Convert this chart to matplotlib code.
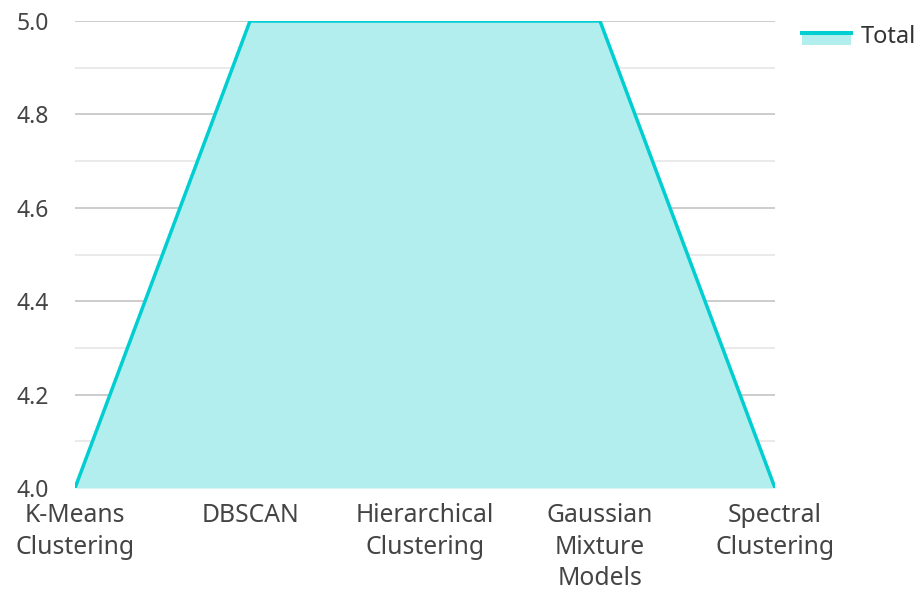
import matplotlib
matplotlib.use("Agg")
import matplotlib.pyplot as plt
from matplotlib.lines import Line2D
from matplotlib.patches import Rectangle
from matplotlib.legend_handler import HandlerBase
import numpy as np

categories = ["K-Means\nClustering", "DBSCAN", "Hierarchical\nClustering",
              "Gaussian\nMixture\nModels", "Spectral\nClustering"]
total = [4.0, 5.0, 5.0, 5.0, 4.0]
y_ticks = [4.0, 4.2, 4.4, 4.6, 4.8, 5.0]
y_minor = [4.1, 4.3, 4.5, 4.7, 4.9]

LINE = "#00CED1"
FILL = "#B2EEEE"

plt.rcParams["font.family"] = ["Noto Sans", "DejaVu Sans"]

fig = plt.figure(figsize=(9.17, 5.92), dpi=100)
ax = fig.add_axes([75 / 917, 1 - 488 / 592, 700 / 917, 467 / 592])

x = np.arange(len(categories))
ax.fill_between(x, total, 4.0, color=FILL, linewidth=0, zorder=2)
ax.plot(x, total, color=LINE, linewidth=2.5, zorder=3, solid_joinstyle="miter")

ax.set_xlim(0, len(categories) - 1)
ax.set_ylim(4.0, 5.0)
ax.set_yticks(y_ticks)
ax.set_yticklabels([f"{v:.1f}" for v in y_ticks])
ax.set_yticks(y_minor, minor=True)
ax.set_xticks(x)
ax.set_xticklabels(categories, linespacing=1.34, va="top")

ax.grid(axis="y", which="major", color="#c4c4c4", linewidth=1.2, zorder=1)
ax.grid(axis="y", which="minor", color="#e6e6e6", linewidth=1.2, zorder=1)
ax.grid(axis="x", visible=False)
for s in ax.spines.values():
    s.set_visible(False)
ax.tick_params(axis="both", which="both", length=0, colors="#444444")
ax.tick_params(axis="y", labelsize=16.5, pad=19)
ax.tick_params(axis="x", labelsize=17.8, pad=11)
ax.set_axisbelow(True)


class AreaHandler(HandlerBase):
    def create_artists(self, legend, orig_handle, xdescent, ydescent,
                       width, height, fontsize, trans):
        y_line = -ydescent + height / 2 + 0.05 * fontsize
        rect_h = 0.5 * fontsize
        rect = Rectangle((-xdescent, y_line - rect_h), width, rect_h,
                         facecolor=FILL, edgecolor="none", transform=trans)
        line = Line2D([-xdescent, -xdescent + width], [y_line, y_line],
                      color=LINE, linewidth=2.9, transform=trans)
        return [rect, line]


proxy = Rectangle((0, 0), 1, 1)
leg = fig.legend([proxy], ["Total"], handler_map={Rectangle: AreaHandler()},
                 loc="upper left", bbox_to_anchor=(797 / 917, 1 - 20 / 592),
                 frameon=False, fontsize=17, handlelength=2.1,
                 handleheight=0.7, handletextpad=0.4, borderaxespad=0,
                 borderpad=0.2)
for t in leg.get_texts():
    t.set_color("#333333")

fig.savefig("out.png", dpi=100)
